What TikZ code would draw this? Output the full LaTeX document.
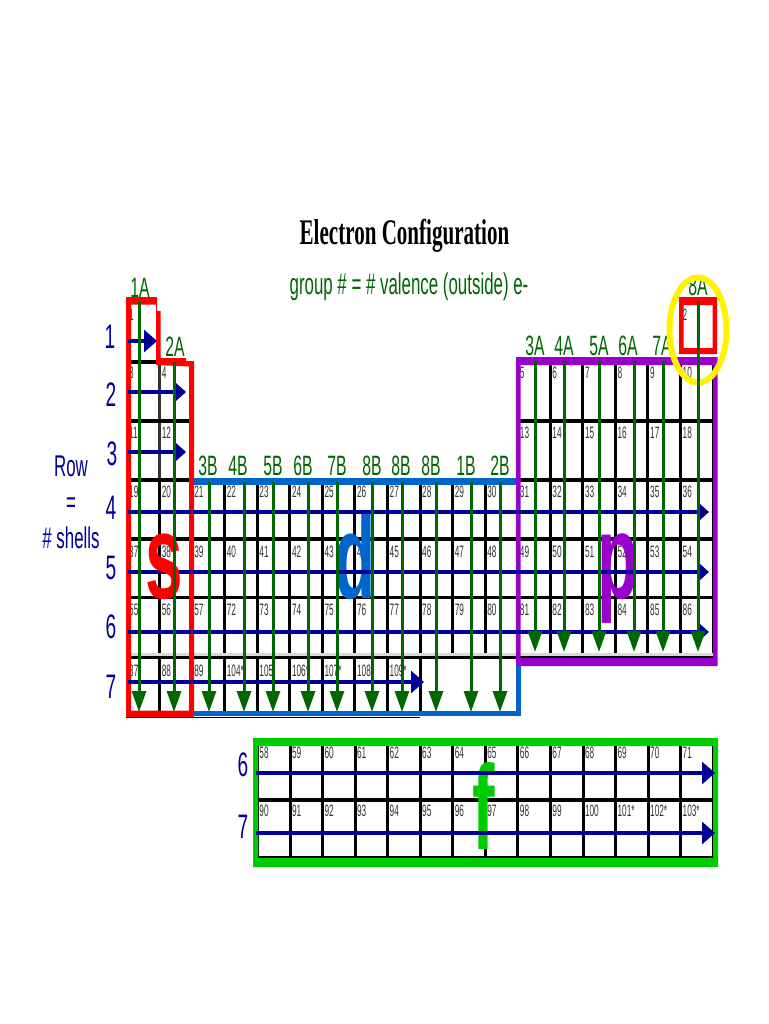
\documentclass[tikz,border=0pt]{standalone}
\usepackage{fontspec}
\usepackage{graphicx}
\setmainfont{Liberation Sans}
\newfontfamily\titlefont{Liberation Serif}
\usetikzlibrary{arrows.meta}
\definecolor{gcol}{HTML}{006600}
\definecolor{bcol}{HTML}{000099}
\definecolor{dcol}{HTML}{0066CC}
\definecolor{pcol}{HTML}{9900CC}
\definecolor{fcol}{HTML}{00CC00}
\definecolor{numcol}{HTML}{333333}
\newcommand\sq[1]{\scalebox{.5625}[1]{#1}}
\newcommand\numrow[3]{\foreach \ntxt [count=\ncol from #2] in {#3} {\node[numtext] (n#1x\ncol) at ({127+32.56*\ncol+2},#1) {\scalebox{.5}[1]{\ntxt}};}}
\tikzset{
  numtext/.style={anchor=base west,inner sep=0pt,text=numcol,font=\fontsize{16.5}{16.5}\selectfont},
  grouplabel/.style={anchor=base,inner sep=0pt,text=gcol,font=\fontsize{28}{28}\selectfont},
  rowlabel/.style={anchor=center,inner sep=0pt,text=bcol,font=\fontsize{34}{34}\selectfont},
  sidelabel/.style={anchor=base,inner sep=0pt,text=bcol,font=\fontsize{30}{30}\selectfont},
  blockletter/.style={anchor=base,inner sep=0pt,font=\fontsize{120}{120}\selectfont\bfseries},
  gridh/.style={draw=black,line width=3.5pt},
  gridv/.style={draw=black,line width=3pt},
  greenarrow/.style={draw=gcol,line width=3pt,-{Triangle[length=21pt,width=14pt]}},
  bluearrow/.style={draw=bcol,line width=3.2pt,-{Triangle[length=11pt,width=19pt]}},
  bluearrowbig/.style={draw=bcol,line width=3.6pt,-{Triangle[length=13pt,width=22pt]}},
}
\begin{document}
\begin{tikzpicture}[x=1pt,y=-1pt]
\useasboundingbox (0,0) rectangle (768,1024);
\fill[white] (0,0) rectangle (768,1024);
% main grid
\foreach \i in {0,...,9} \draw[gridv] ({127+32.56*\i},480) -- ({127+32.56*\i},716);
\foreach \i in {10,11} \draw[gridv] ({127+32.56*\i},480) -- ({127+32.56*\i},657);
\foreach \i in {12,...,18} \draw[gridv] ({127+32.56*\i},362) -- ({127+32.56*\i},657);
\draw[draw=black!80,line width=2.4pt] (159.6,362) -- (159.6,480);
\draw[gridh] (130,362) -- (160,362);
\draw[gridh] (517,362) -- (713,362);
\draw[gridh] (127,421) -- (192,421);
\draw[gridh] (517,421) -- (713,421);
\draw[gridh] (127,480) -- (192,480);
\draw[gridh] (517,480) -- (713,480);
\draw[gridh] (127,539) -- (713,539);
\draw[gridh,line width=3pt] (127,597.5) -- (713,597.5);
\draw[black!15,line width=3pt] (127,654.5) -- (713,654.5);
\draw[gridh,line width=2.8pt] (127,657.5) -- (713,657.5);
\draw[black,line width=1.5pt] (126,717.5) -- (420,717.5);
% f grid
\foreach \i in {0,...,14} \draw[gridv] ({257.5+32.55*\i},745) -- ({257.5+32.55*\i},857);
\draw[gridh,line width=4pt] (258,800) -- (713,800);
\draw[gridh,line width=3pt] (258,857) -- (713,857);
% element numbers
\numrow{320}{0}{1}
\numrow{320}{17}{2}
\numrow{378}{0}{3,4}
\numrow{378}{12}{5,6,7,8,9,10}
\numrow{438}{0}{11,12}
\numrow{438}{12}{13,14,15,16,17,18}
\numrow{497}{0}{19,20,21,22,23,24,25,26,27,28,29,30,31,32,33,34,35,36}
\numrow{557}{0}{37,38,39,40,41,42,43,44,45,46,47,48,49,50,51,52,53,54}
\numrow{615}{0}{55,56,57,72,73,74,75,76,77,78,79,80,81,82,83,84,85,86}
\numrow{676}{0}{87,88,89,104*,105,106*,107*,108,109*}
\numrow{758}{4}{58,59,60,61,62,63,64,65,66,67,68,69,70,71}
\numrow{816}{4}{90,91,92,93,94,95,96,97,98,99,100,101*,102*,103*}
% blocks
\draw[dcol,line width=6.5pt] (194,481.5) -- (518,481.5);
\draw[dcol,line width=5pt] (194,713.5) -- (518,713.5) -- (518,660);
\fill[pcol,even odd rule] (516,357) rectangle (717.5,666) (520.5,365) rectangle (713,658);
\fill[fcol,even odd rule] (253,738) rectangle (718,867) (258,746) rectangle (713,858);
\fill[red,even odd rule] (126,297) -- (157,297) -- (157,311) -- (160.5,311) -- (160.5,358) -- (186,358) -- (186,361) -- (194,361) -- (194,717) -- (126,717) -- cycle
  (131,304.5) -- (156,304.5) -- (156,365) -- (189,366.5) -- (189,710.5) -- (131,710.5) -- cycle;
\fill[red,even odd rule] (679,297) rectangle (717,354) (683.5,305) rectangle (712.5,348);
% block letters below the row arrows
\node[blockletter,text=dcol] (dletter) at (355,598) {\sq{d}};
\node[blockletter,text=pcol] (pletter) at (618,598) {\sq{p}};
\node[blockletter,text=fcol] (fletter) at (484,849) {\sq{f}};
% row arrows
\coordinate (bs1) at (128,341);   \coordinate (be1) at (157,341);
\coordinate (bs2) at (128,392);   \coordinate (be2) at (186,392);
\coordinate (bs3) at (128,452);   \coordinate (be3) at (186,452);
\coordinate (bs4) at (128,512);   \coordinate (be4) at (709,512);
\coordinate (bs5) at (128,572);   \coordinate (be5) at (709,572);
\coordinate (bs6) at (128,632);   \coordinate (be6) at (709,632);
\coordinate (bs7) at (128,682);   \coordinate (be7) at (424,682);
\coordinate (bs8) at (256,773);   \coordinate (be8) at (715,773);
\coordinate (bs9) at (256,833);   \coordinate (be9) at (715,833);
\foreach \n in {2,3,4,5,6} \draw[bluearrow] (bs\n) -- (be\n);
\foreach \n in {1,7,8,9} \draw[bluearrowbig] (bs\n) -- (be\n);
\node[blockletter,text=red] (sletter) at (164,598) {\sq{s}};
% group labels
\foreach \nm/\txt/\xx/\yy in {a1/1A/140/297,a2/2A/175/356,a3/3A/535/355,a4/4A/564/355,a5/5A/599/355,a6/6A/628/355,a7/7A/662/355,a8/8A/698/295,b3/3B/208/475,b4/4B/238/475,b5/5B/273/475,b6/6B/303/475,b7/7B/337/475,b8/8B/372/475,b9/8B/401/475,b10/8B/431/475,b1/1B/466/475,b2/2B/500/475}
  \node[grouplabel] (lab\nm) at (\xx,\yy) {\sq{\txt}};
% row labels
\foreach \nm/\txt/\xx/\yy in {r1/1/110/337,r2/2/111/395,r3/3/112/454,r4/4/111/508,r5/5/111/568,r6/6/111/627,r7/7/111/687,f6/6/243/765,f7/7/243/827}
  \node[rowlabel] (row\nm) at (\xx,\yy) {\sq{\txt}};
\node[sidelabel] (sideA) at (71,476) {\sq{Row}};
\node[sidelabel] (sideB) at (71,512) {\sq{=}};
\node[sidelabel] (sideC) at (71,548) {\sq{\# shells}};
% titles
\node[anchor=base,inner sep=0pt,font=\titlefont\fontsize{36}{36}\selectfont\bfseries] (title) at (404.5,244) {\scalebox{.585}[1]{Electron Configuration}};
\node[grouplabel,font=\fontsize{30}{30}\selectfont] (subtitle) at (409,294) {\sq{group \# = \# valence (outside) e-}};
% helium ring
\draw[yellow,line width=6pt] (698,330) ellipse [x radius=28.5,y radius=52.5];
% group arrows
\foreach \n/\xx/\aa/\bb in {1/139/302/712,2/174/362/712,3/209/482/712,4/244/482/712,5/273/482/712,6/308/482/712,7/337/482/712,8/372/482/712,9/402/482/712,10/436/482/712,11/471/482/712,12/500/482/712,13/535/361/652,14/564/361/652,15/599/361/652,16/634/361/652,17/663/361/652,18/698/302/652}{
  \coordinate (gs\n) at (\xx,\aa);
  \coordinate (ge\n) at (\xx,\bb);
  \draw[greenarrow] (gs\n) -- (ge\n);
}
\end{tikzpicture}
\end{document}
